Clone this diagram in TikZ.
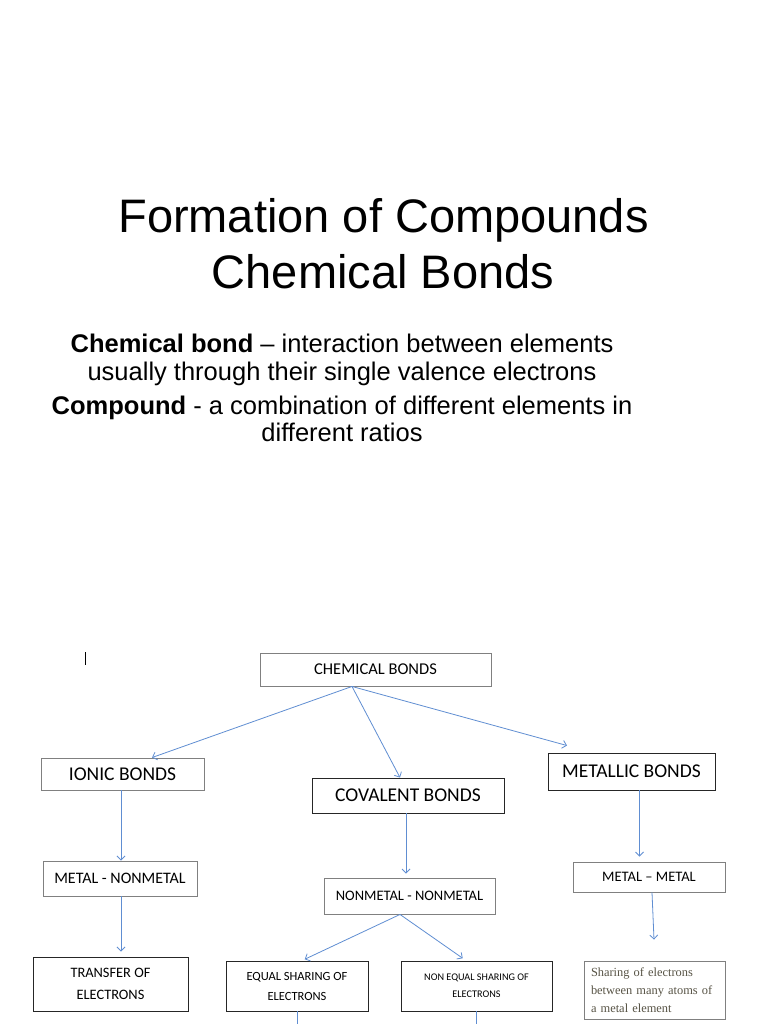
\documentclass[tikz,border=0pt]{standalone}
\usepackage{fontspec}
\setmainfont{Liberation Sans}
\newfontfamily\carlito{Carlito}
\newfontfamily\timesfont{Liberation Serif}
\usetikzlibrary{arrows.meta,positioning}
\definecolor{linkblue}{RGB}{96,142,210}
\definecolor{notegray}{RGB}{88,84,70}
\tikzset{
style1/.style= {rectangle, draw=black!85, line width=0.9pt, align=center, inner sep=0pt, fill=white},
style2/.style= {rectangle, draw=black!50, line width=0.9pt, align=center, inner sep=0pt, fill=white},
style3/.style= {rectangle, draw=black!50, line width=0.9pt, align=left, inner xsep=7pt, inner ysep=0pt, fill=white},
heading/.style= {anchor=base, inner sep=0pt, font=\fontsize{47}{55}\selectfont},
defline/.style= {anchor=base, inner sep=0pt, font=\fontsize{25.5}{28}\selectfont}
}

\begin{document}
\begin{tikzpicture}[
x=1pt, y=1pt,
node distance=30pt,
link/.style={->, draw=linkblue, line width=0.8pt},
>={Straight Barb[length=4pt,width=8pt]}]

\useasboundingbox[fill=white] (0,0) rectangle (768,-1024);

% title and definitions
\node[heading] (title1) at (383.5,-233) {Formation of Compounds};
\node[heading] (title2) at (383,-288) {Chemical Bonds};

\node[defline] (bond1) at (342,-352) {\textbf{Chemical bond} – interaction between elements};
\node[defline] (bond2) at (342,-380) {usually through their single valence electrons};
\node[defline] (comp1) at (342,-414) {\textbf{Compound} - a combination of different elements in};
\node[defline] (comp2) at (342,-441) {different ratios};

% text cursor mark
\draw[line width=1pt] (85,-652) -- (85,-665);

% chart
\node[style2,minimum width=231pt,minimum height=33pt,font=\carlito\fontsize{16.5}{18}\selectfont] (root) at (375.5,-669.5) {CHEMICAL BONDS};

\node[style2,below of = root,xshift=-253pt,yshift=-74.5pt,minimum width=163pt,minimum height=32pt,font=\carlito\fontsize{19.5}{22}\selectfont] (ion) {IONIC BONDS};
\node[style1,below of = root,xshift=32.5pt,yshift=-96pt,minimum width=192pt,minimum height=35pt,font=\carlito\fontsize{19.5}{22}\selectfont] (cov) {COVALENT BONDS};
\node[style1,below of = root,xshift=256pt,yshift=-72pt,minimum width=167pt,minimum height=37pt,font=\carlito\fontsize{19.5}{22}\selectfont] (met) {METALLIC BONDS};

\node[style2,below of = ion,xshift=-2.5pt,yshift=-74.5pt,minimum width=154pt,minimum height=35pt,font=\carlito\fontsize{16}{18}\selectfont] (mnm) {METAL - NONMETAL};
\node[style2,below of = cov,xshift=1.5pt,yshift=-70.5pt,minimum width=171pt,minimum height=36pt,font=\carlito\fontsize{14.5}{17}\selectfont] (nnm) {NONMETAL - NONMETAL};
\node[style2,below of = met,xshift=17.5pt,yshift=-75.5pt,minimum width=152pt,minimum height=30pt,font=\carlito\fontsize{14.5}{17}\selectfont] (mm) {METAL – METAL};

\node[style1,below of = mnm,xshift=-9.5pt,yshift=-75.5pt,minimum width=155pt,minimum height=54pt,font=\carlito\fontsize{14.4}{22}\selectfont] (tra) {TRANSFER OF\\ELECTRONS};
\node[style1,below of = nnm,xshift=-112.5pt,yshift=-60pt,minimum width=142pt,minimum height=50pt,font=\carlito\fontsize{12.5}{20}\selectfont] (eq) {EQUAL SHARING OF\\ELECTRONS};
\node[style1,below of = nnm,xshift=67pt,yshift=-60pt,minimum width=151pt,minimum height=50pt,font=\carlito\fontsize{10.2}{17}\selectfont] (neq) {NON EQUAL SHARING OF\\ELECTRONS};
\node[style3,below of = mm,xshift=5.5pt,yshift=-83pt,text width=127pt,minimum height=58pt,text=notegray,font=\timesfont\fontsize{12.4}{18}\selectfont] (shr) {Sharing of electrons\\between many atoms of\\a metal element};

% connectors
\coordinate (rootfoot) at ([xshift=-23.5pt]root.south);
\coordinate (nnmfoot) at ([xshift=-9.5pt]nnm.south);
\coordinate (eqend) at ([yshift=-20pt]eq.south);
\coordinate (neqend) at ([yshift=-20pt]neq.south);

\draw[link] (rootfoot) -- ([xshift=29.5pt]ion.north);
\draw[link] (rootfoot) -- ([xshift=-8pt]cov.north);
\draw[link] (rootfoot) -- ([xshift=-64.5pt,yshift=7pt]met.north);

\draw[link] ([xshift=-1.5pt]ion.south) -- ([xshift=1pt]mnm.north);
\draw[link,shorten >=5pt] ([xshift=1pt]mnm.south) -- ([xshift=1pt]mnm.south |- tra.north);
\draw[link,shorten >=4pt] ([xshift=-2pt]cov.south) -- ([xshift=-2pt]cov.south |- nnm.north);
\draw[link,shorten >=3pt] (nnmfoot) -- ([xshift=5pt]eq.north);
\draw[link,shorten >=4pt] (nnmfoot) -- ([xshift=-10.5pt]neq.north);
\draw[link,shorten >=5pt] ([xshift=8pt]met.south) -- ([xshift=8pt]met.south |- mm.north);
\draw[link] ([xshift=3pt]mm.south) -- ([xshift=-0.5pt,yshift=21pt]shr.north);

\draw[draw=linkblue, line width=0.8pt] (eq.south) -- (eqend);
\draw[draw=linkblue, line width=0.8pt] (neq.south) -- (neqend);
\end{tikzpicture}
\end{document}
